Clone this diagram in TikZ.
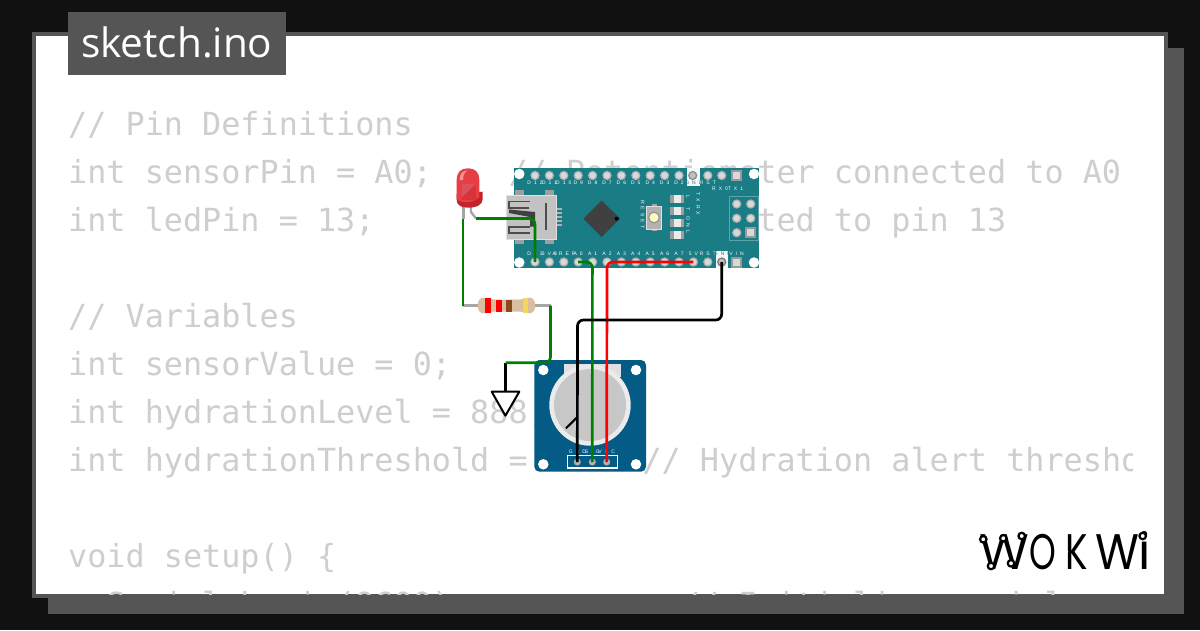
\documentclass[tikz,border=0pt]{standalone}
\usepackage{fontspec}
\setmonofont{DejaVu Sans Mono}
\newfontfamily\titlefont{Open Sans}
\newfontfamily\logofont{Poppins}
\newfontfamily\pinfont[LetterSpace=60]{Liberation Sans}
\usetikzlibrary{positioning}

\definecolor{page}{HTML}{111111}
\definecolor{frame}{HTML}{555555}
\definecolor{code}{HTML}{CECECE}
\definecolor{nano}{HTML}{1A7C85}
\definecolor{potblue}{HTML}{045B85}
\definecolor{wiregreen}{HTML}{008000}
\definecolor{ledred}{HTML}{E63E44}
\definecolor{leddark}{HTML}{C2242C}
\definecolor{restan}{HTML}{D9BE9F}
\definecolor{resyellow}{HTML}{F3D75A}
\definecolor{resbrown}{HTML}{8B4A1C}

\tikzset{
 codeline/.style={anchor=base west, inner sep=0pt, text=code, font=\ttfamily\fontsize{31.8}{32}\selectfont},
 wire/.style={line width=2.7pt, rounded corners=6pt},
 lead/.style={line width=3pt, color=black!35},
 pad/.style={circle, minimum size=8pt, inner sep=0pt, fill=black!15, draw=black!30, line width=1.2pt},
 sqpad/.style={minimum size=9pt, inner sep=0pt, fill=black!15, draw=black!40, line width=2pt},
 hole/.style={circle, minimum size=10.5pt, inner sep=0pt, fill=white},
 pinlabel/.style={inner sep=0pt, text=white, font=\pinfont\fontsize{5}{6}\selectfont},
 sideled/.style={minimum width=14pt, minimum height=8pt, inner sep=0pt, fill=black!38},
 ring/.style={circle, minimum size=6.5pt, inner sep=0pt, fill=white, draw=black, line width=2.2pt},
}

\begin{document}
\begin{tikzpicture}[x=1pt, y=-1pt]
 \useasboundingbox (0,0) rectangle (1200,630);
 \fill[page] (0,0) rectangle (1200,630);
 \fill[frame] (48,48) rectangle (1184,614);
 \draw[frame, fill=white, line width=4pt] (34,34) rectangle (1166,596);

 \begin{scope}
  \clip (68,90) rectangle (1132,594);
  \foreach \n/\t in {
    135/{// Pin Definitions},
    183/{int sensorPin = A0;~~~~// Potentiometer connected to A0},
    231/{int ledPin = 13;~~~~~~~// LED connected to pin 13},
    327/{// Variables},
    375/{int sensorValue = 0;},
    423/{int hydrationLevel = 888;},
    471/{int hydrationThreshold =~~~~~~// Hydration alert threshold},
    567/{void setup() \{},
    615/{~~Serial.begin(9600);~~~~~~~~~~~// Initialize serial}}
   \node[codeline] (line\n) at (68,\n) {\t};
 \end{scope}

 \fill[frame] (68,12) rectangle (286,75);
 \node[inner sep=0pt, text=white, font=\titlefont\fontsize{40.5}{41}\selectfont, anchor=base] (title) at (176.8,57.5) {sketch.ino};

 % arduino nano
 \fill[nano] (513.5,168) rectangle (758.5,268);
 \foreach \x/\y in {519.3/174, 754/174, 519.3/262.5, 754/262.5}
  \node[hole] at (\x,\y) {};
 \fill[white!95!nano] (687.3,168) rectangle (700,186);
 \fill[white!95!nano] (715.7,250.7) rectangle (728.3,268);
 \foreach \i/\t in {0/D12, 1/D11, 2/D10, 3/D9, 4/D8, 5/D7, 6/D6, 7/D5, 8/D4, 9/D3, 10/D2, 12/RST} {
  \node[pad] (top\i) at (535+14.4*\i,175.5) {};
  \node[pinlabel] at (535+14.4*\i,182.7) {\t};
 }
 \node[pad, draw=black!45, fill=black!25] (topgnd) at (692.7,175.5) {};
 \node[pinlabel, text=nano] at (693.8,182.7) {GND};
 \node[pad] (rxo) at (721.7,175.5) {};
 \node[sqpad] (txo) at (736,175.5) {};
 \node[pinlabel] at (720,188.5) {RX0};
 \node[pinlabel] at (735.5,188.5) {TX1};
 \foreach \i/\t in {0/D13, 1/3V3, 2/AREF, 3/A0, 4/A1, 5/A2, 6/A3, 7/A4, 8/A5, 9/A6, 10/A7, 11/5V, 12/RST} {
  \node[pad] (bot\i) at (535+14.4*\i,262) {};
  \node[pinlabel] at (535+14.4*\i,254) {\t};
 }
 \node[pad, draw=black!55, fill=black!25] (botgnd) at (721.7,262) {};
 \node[pinlabel, text=nano] at (722.5,254) {GND};
 \node[sqpad] (vin) at (736,262) {};
 \node[pinlabel] at (736.5,254) {VIN};

 % usb socket
 \foreach \x in {515,545} {
  \fill[black!38] (\x,190) rectangle (\x+9,196);
  \fill[black!38] (\x,238) rectangle (\x+9,244);
 }
 \foreach \y in {208,212,216,220,224}
  \fill[black!30] (556,\y) rectangle (561.5,\y+2.2);
 \draw[black!12, fill=black!24, line width=1pt] (506,195) rectangle (556,239.3);
 \draw[black!70, line width=1.2pt] (529.5,201.7) -- (509,201.7) -- (509,208) -- (529,208);
 \fill[black!75] (509,209.5) -- (535,212) -- (535,226.5) -- (530,226.5) -- (530,217) -- (509,213) -- cycle;
 \draw[black!70, line width=1.2pt] (529.5,227) -- (509,227) -- (509,233) -- (529.5,233);
 \draw[black!70, line width=1.2pt] (546,203) -- (546,230);

 % chip, button, status leds
 \fill[black!75] (601.7,200.5) -- (620,218.7) -- (601.7,237) -- (583.4,218.7) -- cycle;
 \fill[black] (616.7,218.7) circle (2pt);
 \fill[black!35] (651.5,204) rectangle (656.5,231);
 \draw[black!12, fill=black!30, line width=0.8pt] (646.7,206) rectangle (661.7,229.3);
 \draw[black!45, fill=yellow!25!white, line width=1pt] (654,217.5) circle (5.3pt);
 \node[pinlabel, rotate=-90] at (642.6,214.5) {RESET};
 \foreach \y in {199,211,223,234.5} {
  \node[sideled] at (677,\y) {};
  \fill[white!92!black] (674,\y-4) rectangle (680.5,\y+4);
 }
 \node[pinlabel, rotate=-90] at (688,197) {L};
 \node[pinlabel, rotate=-90] at (688,209) {T};
 \node[pinlabel, rotate=-90] at (688,222) {ON};
 \node[pinlabel, rotate=-90] at (688,232) {L};
 \node[pinlabel, rotate=-90] at (698,204) {TXRX};
 \draw[nano!70!white, line width=1pt] (729.3,196.7) rectangle (758.3,240);
 \foreach \x/\y in {736.7/204, 750.7/204, 736.7/218.3, 750.7/218.3, 736.7/232.7}
  \node[pad] at (\x,\y) {};
 \node[sqpad] at (750.7,232.7) {};

 % led
 \coordinate (ledc) at (463,218.5);
 \coordinate (leda) at (476,218.5);
 \draw[lead] (463,205) -- (ledc);
 \draw[lead, line width=2.4pt] (471,206) -- (471,212) -- (leda);
 \fill[leddark] (456.7,194) -- (482.7,191.7) -- (482.7,199) .. controls (482.7,205) and (476,207.7) .. (468,207.7) .. controls (461,207.7) and (456.7,205) .. (456.7,200) -- cycle;
 \fill[ledred] (456.7,199) -- (456.7,180) .. controls (456.7,172) and (461,168.3) .. (468,168.3) .. controls (475,168.3) and (479.3,172) .. (479.3,180) -- (479.3,197) .. controls (475,203) and (461,204) .. (456.7,199) -- cycle;
 \fill[leddark, opacity=.4] (462,184) rectangle (476,200);
 \fill[white, opacity=.15] (462,184) -- (476,184) -- (462,197) -- cycle;
 \fill[white, opacity=.45] (459.5,180) .. controls (459.5,174) and (463,170.5) .. (467,170.5) .. controls (464,173) and (463,176) .. (463,180) -- cycle;

 % resistor
 \coordinate (rl) at (463,305.5);
 \coordinate (rr) at (550.5,305.5);
 \draw[lead] (rl) -- (rr);
 \fill[restan] (483,297.7) .. controls (487,297.7) and (491,299.5) .. (495,299.5) -- (519,299.5) .. controls (523,299.5) and (526,297.7) .. (530,297.7) .. controls (537,297.7) and (537,313.3) .. (530,313.3) .. controls (526,313.3) and (523,311.5) .. (519,311.5) -- (495,311.5) .. controls (491,311.5) and (487,313.3) .. (483,313.3) .. controls (476,313.3) and (476,297.7) .. (483,297.7) -- cycle;
 \fill[red] (485,297.7) rectangle (490.7,313.3);
 \fill[red] (496,299.5) rectangle (501.7,311.5);
 \fill[resbrown] (506,299.5) rectangle (511.7,311.5);
 \fill[resyellow] (522.7,297.9) rectangle (528.3,313.1);

 % potentiometer
 \fill[potblue, rounded corners=5pt] (534.3,360) rectangle (646,471.7);
 \foreach \x/\y in {543.3/370, 636/370, 543.3/464.3, 636/464.3}
  \node[hole] at (\x,\y) {};
 \fill[blue!4!black!12] (564.3,364) rectangle (621,377);
 \fill[blue!4!black!8] (590,405) circle (40.7pt);
 \fill[black!22] (590,405) circle (36pt);
 \draw[black, line width=2pt] (566,428.3) -- (577.7,416.7);
 \draw[white, line width=1.2pt] (567.3,455.3) rectangle (617.3,468);
 \foreach \x/\t in {577.3/GND, 592.3/SIG, 606.7/VCC} {
  \node[circle, minimum size=7pt, inner sep=0pt, fill=black!30] (pot\t) at (\x,462) {};
  \node[pinlabel] at (\x,451.7) {\t};
 }

 % ground
 \coordinate (gnd) at (505.5,391.7);
 \coordinate (rg) at (505.5,362.8);
 \draw[black, fill=white, line width=2pt, line join=round] (491.7,391.7) -- (519.3,391.7) -- (505.4,415.7) -- cycle;

 % wires
 \draw[wire, wiregreen] (leda) -- (535,218.5) -- (bot0.center);
 \draw[wire, wiregreen] (ledc) -- (rl);
 \draw[wire, black] (rg) -- (gnd);
 \draw[wire, wiregreen] (rr) -- (550.5,362.8) -- (rg);
 \draw[wire, wiregreen] (bot3.center) -- (592.4,262) -- (potSIG.center);
 \draw[wire, red] (bot11.center) -- (607,262) -- (potVCC.center);
 \draw[wire, black] (botgnd.center) -- (721.7,320) -- (577.5,320) -- (potGND.center);

 % logo
 \node[inner sep=0pt, anchor=base west, font=\logofont\fontsize{50}{50}\selectfont] (logo) at (979.5,569) {\scalebox{1.02}[1]{W}\scalebox{.68}[1]{O}\hspace{9pt}\scalebox{.75}[1]{K}\hspace{7.5pt}\scalebox{.9}[1]{W}\hspace{-0.5pt}i};
 \foreach \x/\y in {983.3/539.3, 1003.3/538.3, 1021.7/536, 991/566, 1011/563.3, 1142.7/536}
  \node[ring] at (\x,\y) {};
 \fill[white] (1066.7,551.7) circle (1.5pt);
\end{tikzpicture}
\end{document}
